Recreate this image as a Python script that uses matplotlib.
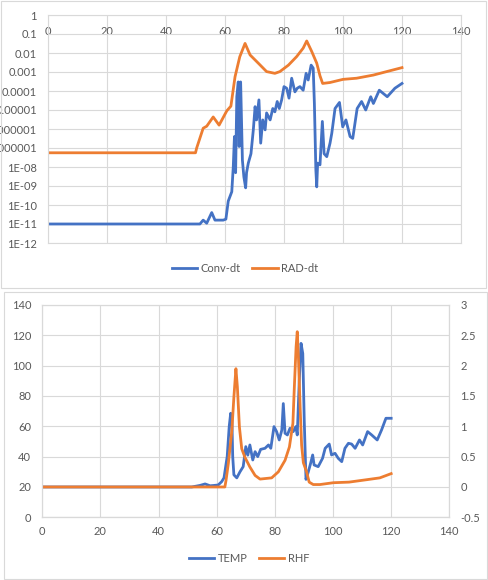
import matplotlib.pyplot as plt
import numpy as np
from matplotlib.patches import Rectangle

# --- datos grafico superior (escala log) ---
conv_x = [0, 51.5, 52.6, 53.8, 55.5, 56.6, 59.4, 60.3, 61.1, 62.3, 62.8, 63.2, 63.6, 64.0,
          64.5, 64.8, 65.3, 65.9, 66.4, 67.0, 67.3, 67.9, 68.8, 69.6, 70.2, 70.7, 71.5,
          72.1, 72.8, 73.6, 74.1, 75.3, 76.2, 76.9, 77.7, 78.4, 79.2, 80.0, 80.9, 81.7,
          82.6, 83.7, 84.5, 85.4, 86.5, 87.5, 88.2, 89.2, 89.9, 90.3, 90.8, 91.1, 91.4,
          92.2, 93.0, 93.6, 94.5, 95.6, 96.2, 97.3, 98.8, 99.9, 101.0, 102.4, 103.3,
          104.8, 106.3, 107.7, 109.4, 110.3, 112.3, 115.0, 117.6, 120.0]
conv_dt = [1e-11, 1e-11, 1.6e-11, 1.1e-11, 4e-11, 1.6e-11, 1.6e-11, 1.8e-11, 1.6e-10,
           5e-10, 1e-08, 4e-07, 5e-09, 5e-05, 3e-04, 1.2e-07, 3e-04, 2.3e-08, 3e-09,
           8e-10, 5e-09, 1.6e-08, 5e-08, 9e-07, 1.5e-05, 3e-06, 3.4e-05, 1.8e-07,
           3e-06, 9e-07, 7e-06, 3e-06, 1.2e-05, 8e-06, 2.8e-05, 1.2e-05, 3.4e-05,
           1.7e-04, 1.4e-04, 4.2e-05, 4.7e-04, 9e-05, 1.4e-04, 1.7e-04, 1.1e-04,
           8.5e-04, 3.8e-04, 2.3e-03, 1.6e-03, 2.2e-05, 7e-09, 9e-10, 1.6e-08,
           1.3e-08, 2.5e-06, 5e-08, 3.5e-08, 1.8e-07, 6e-07, 1.2e-05, 2.5e-05,
           1.3e-06, 3e-06, 4e-07, 3.2e-07, 1.2e-05, 2.8e-05, 1e-05, 5e-05, 2.2e-05,
           1.1e-04, 5e-05, 1.4e-04, 2.5e-04]

rad_x = [0, 50.0, 50.4, 52.6, 53.8, 56.0, 58.0, 60.6, 62.0, 63.4, 65.0, 66.8, 68.5,
         71.3, 74.1, 76.9, 78.6, 81.5, 84.3, 86.5, 87.7, 89.4, 91.1, 92.2, 93.1, 95.6,
         100.0, 104.6, 110.3, 114.8, 120.0]
rad_dt = [5.6e-08, 5.6e-08, 1e-07, 1.1e-06, 1.4e-06, 4.3e-06, 1.6e-06, 9e-06, 1.6e-05,
          5.6e-04, 6.3e-03, 3.2e-02, 7.9e-03, 2.9e-03, 1.05e-03, 8.5e-04, 1.05e-03,
          2.3e-03, 6.5e-03, 1.8e-02, 4.3e-02, 1.2e-02, 2.9e-03, 6.3e-04, 2.5e-04,
          2.8e-04, 4.1e-04, 4.7e-04, 6.9e-04, 1.05e-03, 1.7e-03]

ytick_top = ['1E-12', '1E-11', '1E-10', '1E-09', '1E-08', '0.0000001', '0.000001',
             '0.00001', '0.0001', '0.001', '0.01', '0.1', '1']

# --- datos grafico inferior ---
temp_x = [0, 51.4, 54.2, 56.0, 57.7, 59.0, 60.5, 61.7, 62.5, 63.2, 63.6, 64.3, 64.8,
          65.2, 65.5, 65.9, 66.9, 68.0, 69.1, 70.0, 70.7, 71.4, 72.4, 73.2, 74.1,
          75.1, 76.6, 77.8, 78.6, 79.7, 80.6, 81.5, 82.4, 82.9, 83.5, 84.3, 85.2,
          86.3, 87.2, 87.7, 88.4, 89.0, 89.6, 90.1, 90.7, 91.5, 92.3, 93.0, 93.5,
          94.9, 96.4, 97.3, 98.7, 99.5, 100.7, 101.8, 103.0, 104.1, 105.3, 106.4,
          107.6, 109.1, 110.2, 111.9, 113.3, 115.2, 116.7, 118.2, 120.0]
temp = [20, 20, 21.0, 22, 20.8, 21, 21.3, 23.5, 26, 35, 40, 60, 68.6, 66, 40, 28, 26,
        30, 33.4, 46.6, 41, 47.7, 37.8, 43.3, 40, 44.8, 45.5, 47.7, 45.5, 59.8, 56.5,
        51, 57.6, 75, 55.4, 54.3, 58.7, 56.5, 59.8, 54.3, 90.5, 114.7, 108, 64, 25,
        30, 35.6, 41.1, 34.5, 33.4, 38.9, 45.5, 48.3, 41.1, 42.2, 38.9, 36.7, 45.5,
        48.8, 48.3, 45.5, 51, 47.7, 56.5, 54.3, 51, 57.6, 65.3, 65.3]

rhf_x = [0, 62.8, 63.2, 64.0, 65.2, 65.9, 66.6, 67.1, 67.8, 68.6, 69.7, 71.4, 73.2,
         74.9, 78.9, 81.2, 83.5, 85.0, 86.2, 86.7, 87.3, 87.7, 88.1, 88.7, 89.2,
         89.8, 90.9, 91.8, 93.2, 95.5, 100.1, 105.5, 111.6, 116.1, 120.0]
rhf = [0, 0, 0.11, 0.39, 0.93, 1.48, 1.95, 1.65, 0.99, 0.63, 0.49, 0.33, 0.19, 0.13,
       0.15, 0.25, 0.44, 0.66, 1.05, 1.65, 2.31, 2.56, 2.14, 1.3, 0.69, 0.4, 0.25,
       0.08, 0.04, 0.04, 0.07, 0.08, 0.12, 0.15, 0.22]

azul = '#4472C4'
naranja = '#ED7D31'
gris = '#d9d9d9'
texto = '#595959'

plt.rcParams['font.family'] = ['Lato', 'DejaVu Sans']
plt.rcParams['font.size'] = 8

W, H = 488, 580
fig = plt.figure(figsize=(W / 100, H / 100), dpi=100)

# marcos de los graficos (estilo Excel)
fig.patches.append(Rectangle((0.5 / W, 1 - 288 / H), 485 / W, 287.5 / H,
                             transform=fig.transFigure, fill=False, edgecolor=gris, lw=0.8))
fig.patches.append(Rectangle((4.3 / W, 1 - 579 / H), 482.4 / W, 287.3 / H,
                             transform=fig.transFigure, fill=False, edgecolor=gris, lw=0.8))

# ---------- grafico superior ----------
ax1 = fig.add_axes([48 / W, 1 - 243 / H, 413 / W, 228 / H])
ax1.plot(conv_x, conv_dt, color=azul, lw=2.0, label='Conv-dt')
ax1.plot(rad_x, rad_dt, color=naranja, lw=2.0, label='RAD-dt')
ax1.set_yscale('log')
ax1.set_xlim(0, 140)
ax1.set_ylim(1e-12, 1)
ax1.set_xticks(np.arange(0, 141, 20))
ax1.set_yticks(10.0 ** np.arange(-12, 1))
ax1.set_yticklabels(ytick_top)
ax1.yaxis.set_minor_locator(plt.NullLocator())
ax1.tick_params(axis='x', bottom=False, top=False, labelbottom=False, labeltop=True,
                pad=-19, colors=texto)
ax1.tick_params(axis='y', length=0, pad=8, colors=texto)
ax1.grid(True, color=gris, lw=0.8)
for s in ax1.spines.values():
    s.set_color(gris)
    s.set_linewidth(0.8)
fig.legend(handles=ax1.get_lines(), loc='center', bbox_to_anchor=(245 / W, 1 - 268 / H),
           ncol=2, frameon=False, handlelength=2.3, handletextpad=0.3, columnspacing=1.0,
           labelcolor=texto)

# ---------- grafico inferior ----------
ax2 = fig.add_axes([42.3 / W, 1 - 517.3 / H, 407 / W, 212.3 / H])
l1, = ax2.plot(temp_x, temp, color=azul, lw=2.0, label='TEMP')
ax2.set_xlim(0, 140)
ax2.set_ylim(0, 140)
ax2.set_xticks(np.arange(0, 141, 20))
ax2.set_yticks(np.arange(0, 141, 20))
ax2.tick_params(length=0, colors=texto)
ax2.tick_params(axis='y', pad=8)
ax2.tick_params(axis='x', pad=6)
ax2.grid(True, color=gris, lw=0.8)
for s in ax2.spines.values():
    s.set_color(gris)
    s.set_linewidth(0.8)
ax2.spines['bottom'].set_color('#bfbfbf')

ax3 = ax2.twinx()
l2, = ax3.plot(rhf_x, rhf, color=naranja, lw=2.0, label='RHF')
ax3.set_ylim(-0.5, 3)
ax3.set_yticks(np.arange(-0.5, 3.01, 0.5))
ax3.set_yticklabels(['-0.5', '0', '0.5', '1', '1.5', '2', '2.5', '3'])
ax3.tick_params(length=0, pad=8, colors=texto)
for s in ax3.spines.values():
    s.set_color(gris)
    s.set_linewidth(0.8)

fig.legend(handles=[l1, l2], loc='center', bbox_to_anchor=(249 / W, 1 - 558 / H),
           ncol=2, frameon=False, handlelength=2.3, handletextpad=0.3, columnspacing=1.0,
           labelcolor=texto)

fig.savefig('out.png', dpi=100)
